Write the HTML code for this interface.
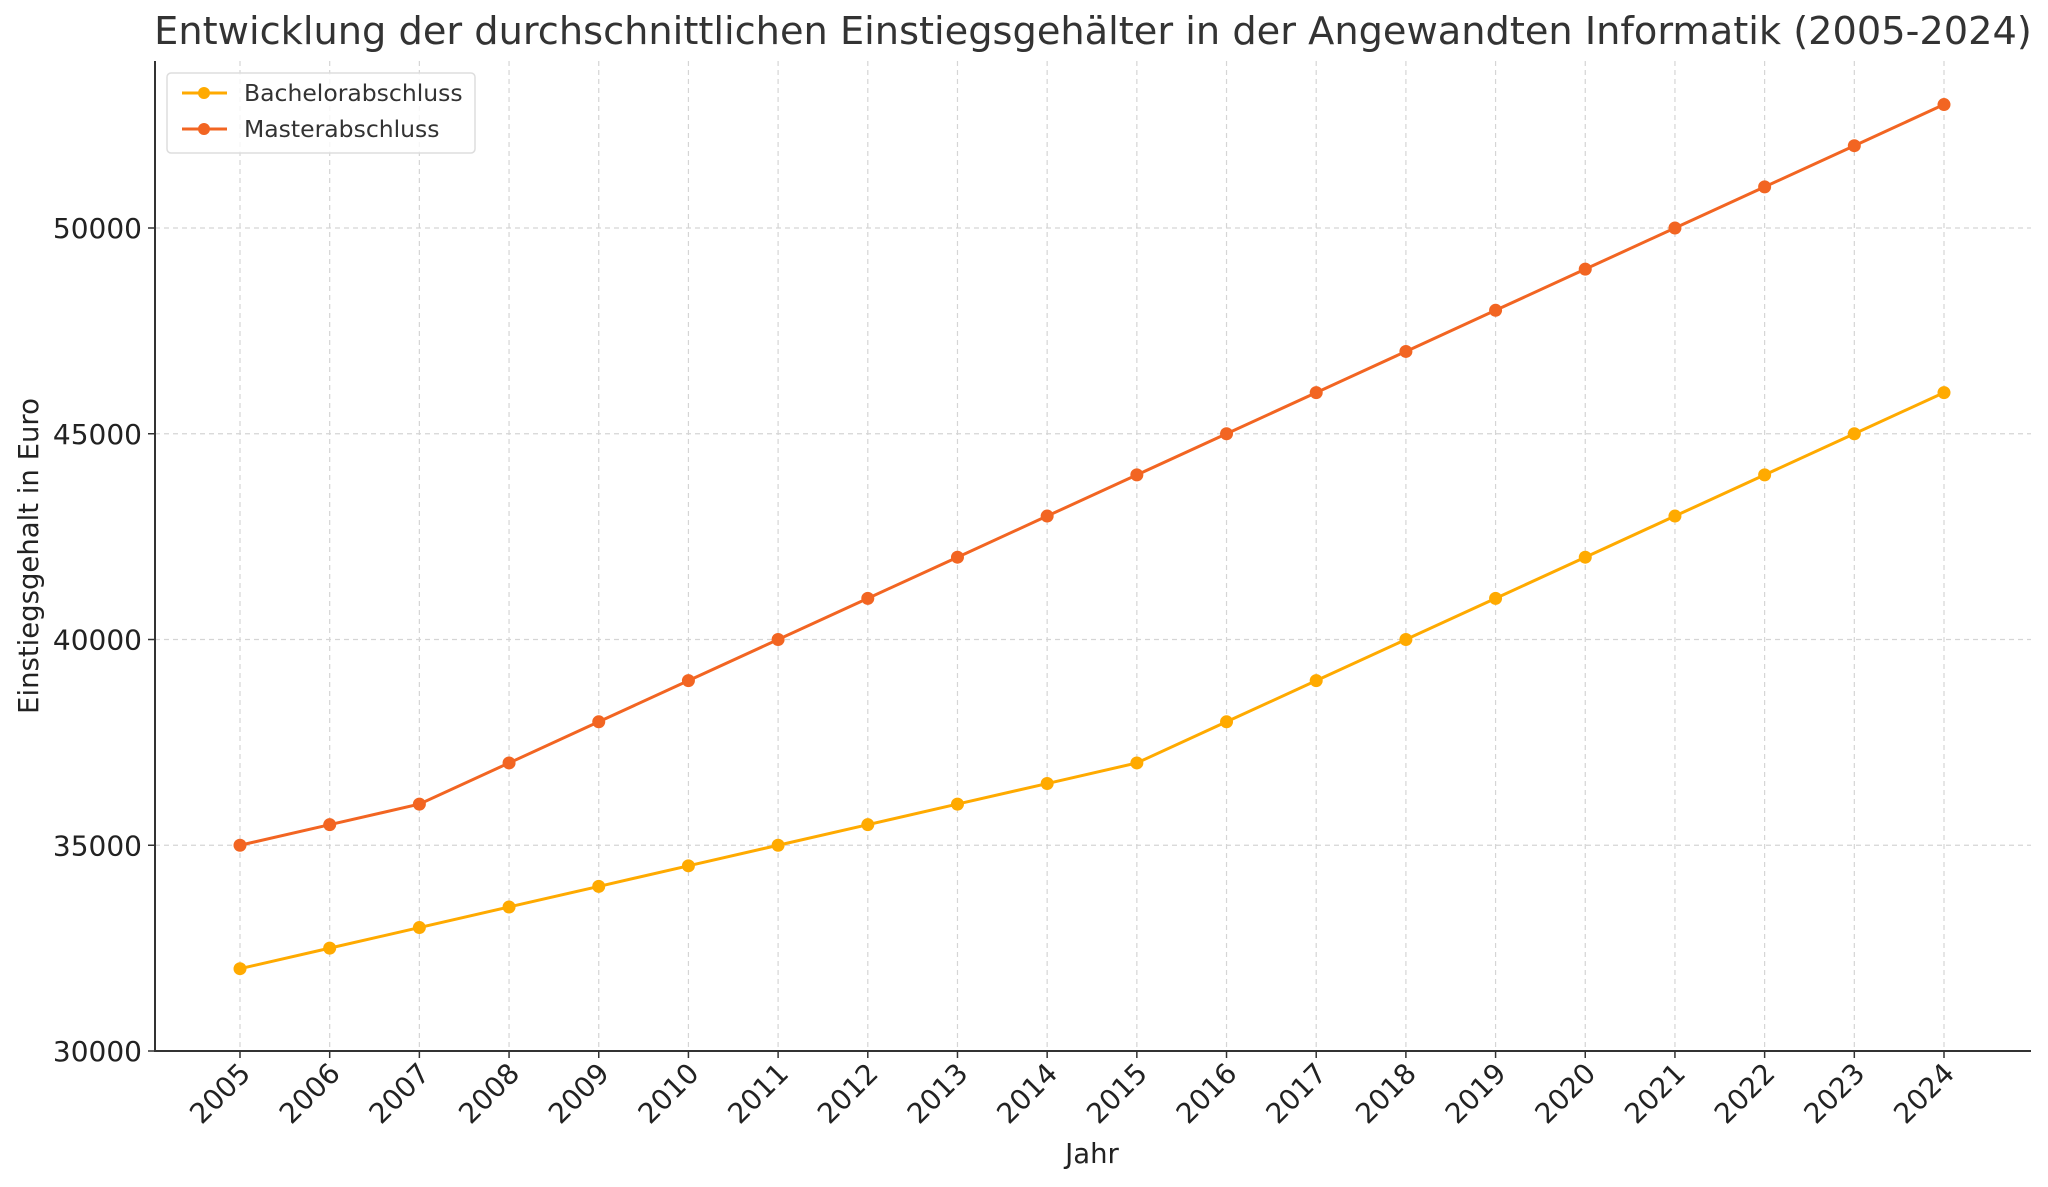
<!DOCTYPE html>
<html><head><meta charset="utf-8"><style>
html,body{margin:0;padding:0;background:#fff}
svg{display:block;font-family:"DejaVu Sans","Liberation Sans",sans-serif}
</style></head><body>
<svg id="chart" width="2048" height="1187" viewBox="0 0 2048 1187">
<text x="1093" y="44" font-size="38.3" fill="#333" text-anchor="middle">Entwicklung der durchschnittlichen Einstiegsgehälter in der Angewandten Informatik (2005-2024)</text>
<g id="grid"></g>
<g id="axes"></g>
<g id="series"></g>
<text x="1092" y="1163" font-size="27.5" fill="#222" text-anchor="middle">Jahr</text>
<text transform="translate(38,556) rotate(-90)" font-size="27.5" fill="#222" text-anchor="middle">Einstiegsgehalt in Euro</text>
<g>
<rect x="167" y="73" width="308" height="80" rx="4" fill="#fff" fill-opacity="0.8" stroke="#ddd" stroke-width="1.5"/>
<g>
<line x1="182" y1="93" x2="227" y2="93" stroke="#ffaa00" stroke-width="3"/>
<circle cx="204" cy="93" r="6" fill="#ffaa00"/>
<text x="244" y="101" font-size="23.5" fill="#333">Bachelorabschluss</text></g>
<g>
<line x1="182" y1="129" x2="227" y2="129" stroke="#f26522" stroke-width="3"/>
<circle cx="204" cy="129" r="6" fill="#f26522"/>
<text x="244" y="137" font-size="23.5" fill="#333">Masterabschluss</text></g>
</g>
</svg>
<script>
const years=[2005,2006,2007,2008,2009,2010,2011,2012,2013,2014,2015,2016,2017,2018,2019,2020,2021,2022,2023,2024];
const bachelor=[32000,32500,33000,33500,34000,34500,35000,35500,36000,36500,37000,38000,39000,40000,41000,42000,43000,44000,45000,46000];
const master=[35000,35500,36000,37000,38000,39000,40000,41000,42000,43000,44000,45000,46000,47000,48000,49000,50000,51000,52000,53000];
const yTicks=[30000,35000,40000,45000,50000];
const NS="http://www.w3.org/2000/svg";
const L=155,R=2031,T=61,B=1051;
const x=i=>240+i*(1944-240)/(years.length-1);
const y=v=>1051-(v-30000)*(1051-228)/20000;
function mk(tag,attrs,parent){const e=document.createElementNS(NS,tag);for(const k in attrs)e.setAttribute(k,attrs[k]);parent.appendChild(e);return e;}
const grid=document.getElementById('grid'),axes=document.getElementById('axes'),ser=document.getElementById('series');
years.forEach((yr,i)=>{
 const g=mk('line',{x1:x(i),x2:x(i),y1:T,y2:B,stroke:'#d5d5d5','stroke-dasharray':'5,4','stroke-width':1.2},grid);
 
 
 const t=mk('line',{x1:x(i),x2:x(i),y1:B,y2:B+7,stroke:'#333','stroke-width':1.5},axes);
 
 
 const lb=mk('text',{x:0,y:0,'font-size':28,fill:'#222','text-anchor':'end',transform:`translate(${x(i)+12},${B+24}) rotate(-45)`},axes);
 lb.textContent=yr;
 
 
});
yTicks.forEach(v=>{
 const g=mk('line',{x1:L,x2:R,y1:y(v),y2:y(v),stroke:'#d5d5d5','stroke-dasharray':'5,4','stroke-width':1.2},grid);
 
 
 const t=mk('line',{x1:L-7,x2:L,y1:y(v),y2:y(v),stroke:'#333','stroke-width':1.5},axes);
 
 
 const lb=mk('text',{x:L-13,y:y(v)+10,'font-size':28,fill:'#222','text-anchor':'end'},axes);
 lb.textContent=v;
 
 
});
const ax=mk('path',{d:`M${L},${T}V${B}H${R}`,fill:'none',stroke:'#333','stroke-width':2},axes);


function drawSeries(vals,color,name){
 const p=mk('polyline',{points:vals.map((v,i)=>x(i)+','+y(v)).join(' '),fill:'none',stroke:color,'stroke-width':3},ser);
 
 
 vals.forEach((v,i)=>{
  const c=mk('circle',{cx:x(i),cy:y(v),r:6.5,fill:color},ser);
  
  
 });
}
drawSeries(bachelor,'#ffaa00','bachelor');
drawSeries(master,'#f26522','master');
</script>
</body></html>
